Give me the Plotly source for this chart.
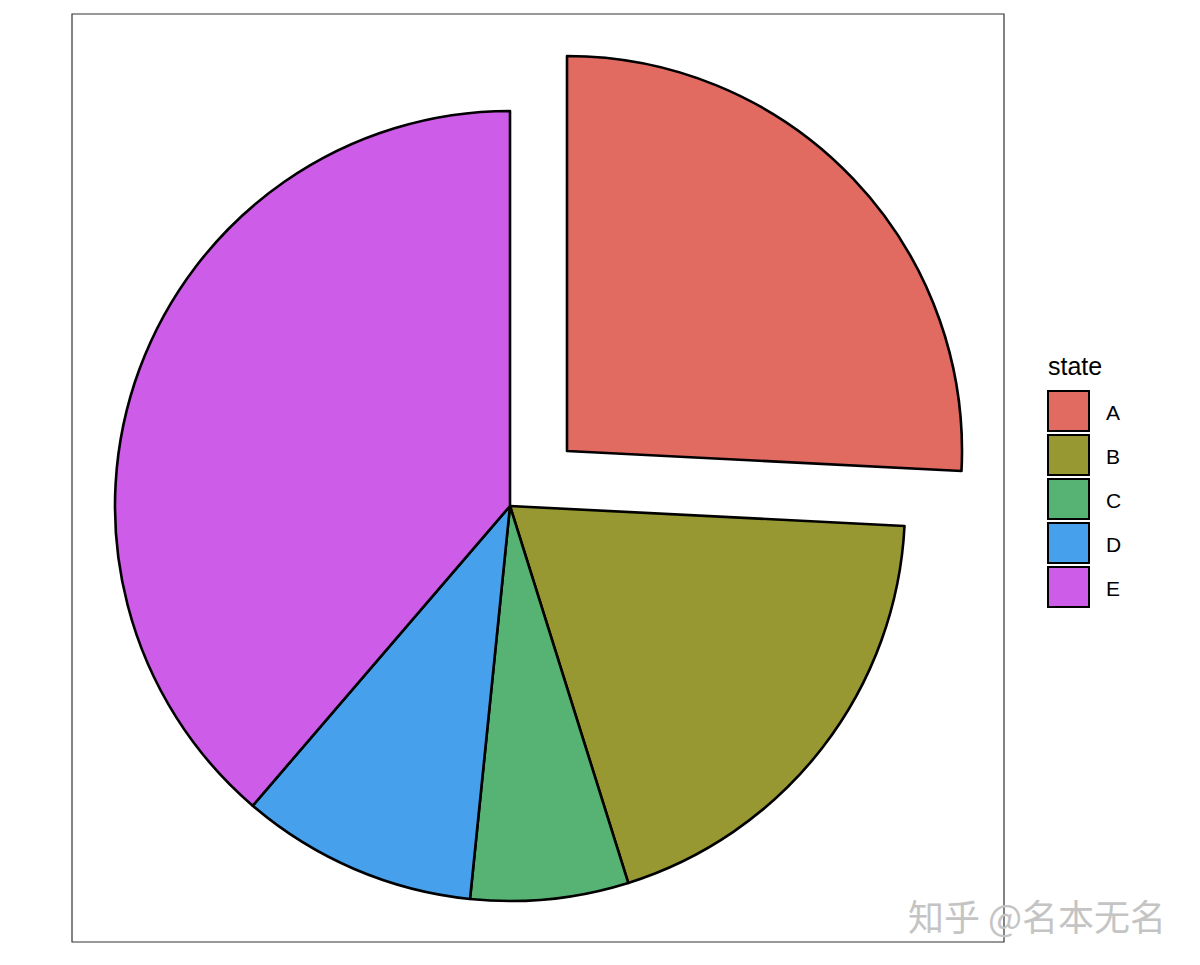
import plotly.graph_objs as go

# data
states = ["A", "B", "C", "D", "E"]
counts = [8, 6, 2, 3, 12]
colors = ["#E16A61", "#979832", "#57B374", "#47A0EC", "#CD5CE8"]
exploded = "A"

# page has an 8px body margin, so the figure is 16px smaller than the window
OFF = 8
W, H = 1200 - 2 * OFF, 965 - 2 * OFF

def px(x):
  return (x - OFF) / W

def py(y):
  return 1 - (y - OFF) / H

def px_domain(cx, cy, r):
  # pixel centre/radius (window coords) -> paper domain
  return dict(x=[px(cx - r), px(cx + r)], y=[py(cy + r), py(cy - r)])

R = 395
center = (510, 506)
shift = (57, -55)   # offset of the pulled-out slice

# main pie: every slice except the exploded one
main_fill = [("rgba(0,0,0,0)" if s == exploded else c) for s, c in zip(states, colors)]
main_line = [(0 if s == exploded else 2.6) for s in states]

# second pie: only the exploded slice, drawn with a shifted domain
out_fill = [(c if s == exploded else "rgba(0,0,0,0)") for s, c in zip(states, colors)]
out_line = [(2.6 if s == exploded else 0) for s in states]

pie_main = go.Pie(
  labels=states, values=counts, sort=False, direction="clockwise", rotation=0,
  marker=dict(colors=main_fill, line=dict(color="black", width=main_line)),
  textinfo="none", hoverinfo="label+value", showlegend=False,
  domain=px_domain(center[0], center[1], R)
)

pie_out = go.Pie(
  labels=states, values=counts, sort=False, direction="clockwise", rotation=0,
  marker=dict(colors=out_fill, line=dict(color="black", width=out_line)),
  textinfo="none", hoverinfo="label+value", showlegend=False,
  domain=px_domain(center[0] + shift[0], center[1] + shift[1], R)
)

shapes = [dict(type="rect", xref="paper", yref="paper",
               x0=px(72), x1=px(1004), y0=py(942), y1=py(14),
               line=dict(color="#333333", width=1.2), layer="below")]
annotations = [dict(text="state", x=px(1046), y=py(366), xref="paper", yref="paper",
                    xanchor="left", yanchor="middle", showarrow=False,
                    font=dict(size=25, color="black"))]

# legend keys
for i, (s, c) in enumerate(zip(states, colors)):
  top = 391 + 44 * i
  shapes.append(dict(type="rect", xref="paper", yref="paper",
                     x0=px(1048), x1=px(1089), y0=py(top + 40), y1=py(top),
                     fillcolor=c, line=dict(color="black", width=2)))
  annotations.append(dict(text=s, x=px(1104), y=py(top + 21), xref="paper", yref="paper",
                          xanchor="left", yanchor="middle", showarrow=False,
                          font=dict(size=21, color="black")))

annotations.append(dict(text="知乎 @名本无名", x=px(1168), y=py(915), xref="paper", yref="paper",
                        xanchor="right", yanchor="middle", showarrow=False,
                        font=dict(size=36, color="#C4C4C4", family="Noto Sans CJK SC")))

layout = go.Layout(
  width=W, height=H,
  margin=dict(l=0, r=0, t=0, b=0),
  paper_bgcolor="white", plot_bgcolor="white",
  font=dict(family="Liberation Sans, Arial, sans-serif"),
  shapes=shapes, annotations=annotations
)

fig = go.Figure(data=[pie_main, pie_out], layout=layout)
fig.write_html("out.html")
